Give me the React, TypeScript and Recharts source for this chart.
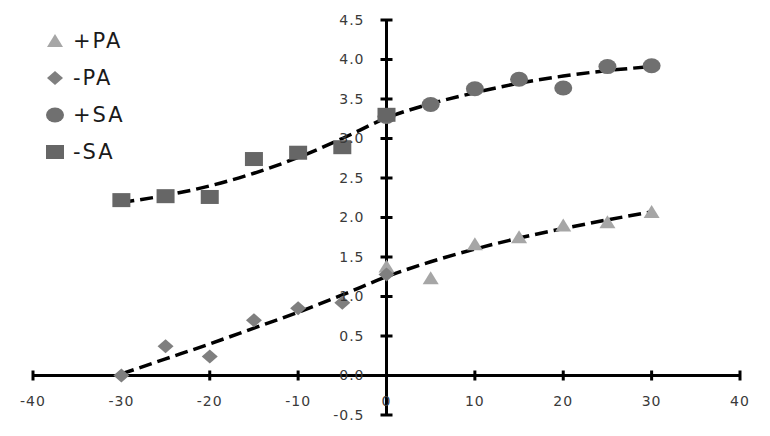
import React from "react";
import {
  ComposedChart,
  Scatter,
  Line,
  XAxis,
  YAxis,
  ReferenceLine,
  ReferenceDot,
  Legend,
} from "recharts";

const plusPA = [
  { x: 0, y: 1.38 },
  { x: 5, y: 1.23 },
  { x: 10, y: 1.66 },
  { x: 15, y: 1.75 },
  { x: 20, y: 1.9 },
  { x: 25, y: 1.94 },
  { x: 30, y: 2.07 },
];
const minusPA = [
  { x: -30, y: 0.0 },
  { x: -25, y: 0.37 },
  { x: -20, y: 0.24 },
  { x: -15, y: 0.7 },
  { x: -10, y: 0.85 },
  { x: -5, y: 0.92 },
  { x: 0, y: 1.28 },
];
const plusSA = [
  { x: 0, y: 3.28 },
  { x: 5, y: 3.43 },
  { x: 10, y: 3.63 },
  { x: 15, y: 3.75 },
  { x: 20, y: 3.64 },
  { x: 25, y: 3.91 },
  { x: 30, y: 3.92 },
];
const minusSA = [
  { x: -30, y: 2.22 },
  { x: -25, y: 2.27 },
  { x: -20, y: 2.26 },
  { x: -15, y: 2.74 },
  { x: -10, y: 2.82 },
  { x: -5, y: 2.89 },
  { x: 0, y: 3.3 },
];

// fitted curves
const fitPA = [
  { x: -30, y: 0.02 },
  { x: -25, y: 0.21 },
  { x: -20, y: 0.4 },
  { x: -15, y: 0.6 },
  { x: -10, y: 0.8 },
  { x: -5, y: 1.02 },
  { x: 0, y: 1.25 },
  { x: 5, y: 1.44 },
  { x: 10, y: 1.6 },
  { x: 15, y: 1.74 },
  { x: 20, y: 1.86 },
  { x: 25, y: 1.97 },
  { x: 30, y: 2.07 },
];
const fitSA = [
  { x: -30, y: 2.19 },
  { x: -25, y: 2.28 },
  { x: -20, y: 2.4 },
  { x: -15, y: 2.56 },
  { x: -10, y: 2.76 },
  { x: -5, y: 3.0 },
  { x: 0, y: 3.26 },
  { x: 5, y: 3.44 },
  { x: 10, y: 3.58 },
  { x: 15, y: 3.7 },
  { x: 20, y: 3.79 },
  { x: 25, y: 3.86 },
  { x: 30, y: 3.91 },
];

const xTicks = [-40, -30, -20, -10, 0, 10, 20, 30, 40];
const yTicks = [-0.5, 0, 0.5, 1, 1.5, 2, 2.5, 3, 3.5, 4, 4.5];

const FONT = "'DejaVu Sans', Verdana, sans-serif";

type Kind = "triangle" | "diamond" | "circle" | "square";

const seriesInfo: { name: string; kind: Kind; color: string; data: { x: number; y: number }[] }[] = [
  { name: "+PA", kind: "triangle", color: "#a6a6a6", data: plusPA },
  { name: "-PA", kind: "diamond", color: "#7f7f7f", data: minusPA },
  { name: "+SA", kind: "circle", color: "#707070", data: plusSA },
  { name: "-SA", kind: "square", color: "#666666", data: minusSA },
];

function Marker({ kind, cx, cy, color }: { kind: Kind; cx: number; cy: number; color: string }) {
  if (cx == null || cy == null) return null;
  switch (kind) {
    case "triangle":
      return <polygon points={`${cx},${cy - 7} ${cx + 8},${cy + 6} ${cx - 8},${cy + 6}`} fill={color} />;
    case "diamond":
      return <polygon points={`${cx},${cy - 7} ${cx + 8},${cy} ${cx},${cy + 7} ${cx - 8},${cy}`} fill={color} />;
    case "circle":
      return <ellipse cx={cx} cy={cy} rx={9} ry={7.5} fill={color} />;
    default:
      return <rect x={cx - 9} y={cy - 7} width={18} height={14} fill={color} />;
  }
}

function LegendBox() {
  return (
    <div style={{ fontFamily: FONT }}>
      {seriesInfo.map((s) => (
        <div key={s.name} style={{ display: "flex", alignItems: "center", height: 37 }}>
          <svg width={20} height={18} style={{ marginRight: 8 }}>
            <Marker kind={s.kind} cx={10} cy={9} color={s.color} />
          </svg>
          <span style={{ fontSize: 21, color: "#1a1a1a", letterSpacing: 2 }}>{s.name}</span>
        </div>
      ))}
    </div>
  );
}

const XTickMark = (p: any) => (
  <line x1={p.cx} x2={p.cx} y1={p.cy - 5} y2={p.cy + 5} stroke="#000" strokeWidth={3} />
);
const YTickMark = (p: any) => (
  <line x1={p.cx - 6} x2={p.cx + 6} y1={p.cy} y2={p.cy} stroke="#000" strokeWidth={3} />
);

export default function App() {
  return (
    <ComposedChart
      width={762}
      height={428}
      margin={{ top: 12, right: 30, bottom: 21, left: 25 }}
    >
      <XAxis type="number" dataKey="x" domain={[-40, 40]} hide allowDataOverflow />
      <YAxis type="number" dataKey="y" domain={[-0.5, 4.5]} hide allowDataOverflow />
      <Legend
        layout="horizontal"
        verticalAlign="middle"
        align="center"
        content={() => <LegendBox />}
        wrapperStyle={{ left: 37, top: 14, width: "auto", height: "auto" }}
      />
      <ReferenceLine x={0} stroke="#000" strokeWidth={3} />
      <ReferenceLine y={0} stroke="#000" strokeWidth={3} />
      {xTicks.map((t) => (
        <ReferenceDot
          key={`xt${t}`}
          x={t}
          y={0}
          r={0}
          shape={XTickMark}
          label={{
            value: String(t),
            position: "bottom",
            offset: 21,
            fontSize: 14,
            fill: "#3a3a3a",
            fontFamily: FONT,
            letterSpacing: 1,
          }}
        />
      ))}
      {yTicks.map((t) => (
        <ReferenceDot
          key={`yt${t}`}
          x={0}
          y={t}
          r={0}
          shape={YTickMark}
          label={{
            value: t.toFixed(1),
            position: "left",
            offset: 22,
            fontSize: 14,
            fill: "#3a3a3a",
            fontFamily: FONT,
            letterSpacing: 1,
          }}
        />
      ))}
      {seriesInfo.map((s) => (
        <Scatter
          key={s.name}
          name={s.name}
          data={s.data}
          fill={s.color}
          isAnimationActive={false}
          shape={(p: any) => <Marker kind={s.kind} cx={p.cx} cy={p.cy} color={s.color} />}
        />
      ))}
      <Line
        data={fitPA}
        dataKey="y"
        type="monotone"
        stroke="#000"
        strokeWidth={3.5}
        strokeDasharray="13 6"
        dot={false}
        legendType="none"
        isAnimationActive={false}
      />
      <Line
        data={fitSA}
        dataKey="y"
        type="monotone"
        stroke="#000"
        strokeWidth={3.5}
        strokeDasharray="13 6"
        dot={false}
        legendType="none"
        isAnimationActive={false}
      />
    </ComposedChart>
  );
}
